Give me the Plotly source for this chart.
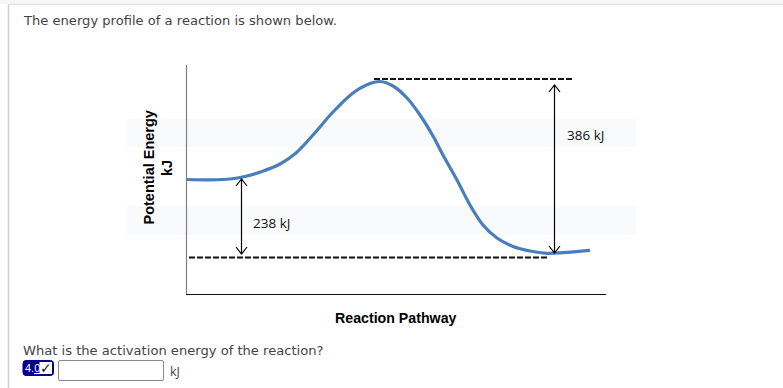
import plotly.graph_objects as go

# Reference drawn on a page-sized coordinate system (x right, y down)
curve_x = [187, 210, 230, 245, 262, 280, 296, 313, 333, 353, 367, 380, 393, 407, 420, 433, 443, 457, 470, 483, 497, 513, 530, 547, 563, 590]
curve_y = [179.5, 179.8, 179, 176.5, 171.5, 164, 153, 135, 112, 93, 84.7, 81.5, 86, 98, 115, 136, 155, 180, 205, 225, 238, 246.5, 251, 253.3, 252.7, 250.3]

top_level_x = [374, 573]
top_level_y = [79, 79]
bottom_level_x = [189, 548]
bottom_level_y = [257.5, 257.5]

arrow_small_x = [241.5, 241.5]
arrow_small_y = [179, 254]
arrow_large_x = [554.5, 554.5]
arrow_large_y = [85, 253]

band_rows = [(119, 147), (206, 235)]

question_intro = "The energy profile of a reaction is shown below."
question_ask = "What is the activation energy of the reaction?"
y_title_main = "Potential Energy"
y_title_unit = "kJ"
x_title = "Reaction Pathway"
label_small = "238 kJ"
label_large = "386 kJ"
unit_label = "kJ"
badge_value = "4.<u>0</u>"

BODY = "DejaVu Sans"
LABEL = "Open Sans"
BOLD = "Liberation Sans"
BLUE = "#4a7ebb"


def arrow_trace(xs, ys):
    hx, hy = 5.5, 7
    px = [xs[0] - hx, xs[0], xs[0] + hx, None, xs[0], xs[1], None, xs[1] - hx, xs[1], xs[1] + hx]
    py = [ys[0] + hy, ys[0], ys[0] + hy, None, ys[0], ys[1], None, ys[1] - hy, ys[1], ys[1] - hy]
    return go.Scatter(x=px, y=py, mode="lines", line=dict(color="#000000", width=1.2), hoverinfo="skip")


fig = go.Figure()
for xs, ys in [(top_level_x, top_level_y), (bottom_level_x, bottom_level_y)]:
    fig.add_trace(go.Scatter(x=xs, y=ys, mode="lines", hoverinfo="skip",
                             line=dict(color="#111111", width=2, dash="6px,2px")))
fig.add_trace(go.Scatter(x=curve_x, y=curve_y, mode="lines", hoverinfo="skip",
                         line=dict(color=BLUE, width=3.2, shape="spline", smoothing=1)))
fig.add_trace(arrow_trace(arrow_small_x, arrow_small_y))
fig.add_trace(arrow_trace(arrow_large_x, arrow_large_y))

badge_path = "M 26 360.5 H 50.5 Q 53.5 360.5 53.5 363.5 V 372.5 Q 53.5 375.5 50.5 375.5 H 26 Q 23 375.5 23 372.5 V 363.5 Q 23 360.5 26 360.5 Z"
input_path = "M 60 360.5 H 162 Q 163.5 360.5 163.5 362 V 379 Q 163.5 380.5 162 380.5 H 60 Q 58.5 380.5 58.5 379 V 362 Q 58.5 360.5 60 360.5 Z"

shapes = [
    dict(type="rect", x0=0, x1=783, y0=0, y1=4, fillcolor="#f6f6f6", line_width=0, layer="below"),
    dict(type="line", x0=8, x1=783, y0=4.5, y1=4.5, line=dict(color="#e2e2e2", width=1), layer="below"),
    dict(type="line", x0=8.5, x1=8.5, y0=4, y1=388, line=dict(color="#d0d0d0", width=1.5), layer="below"),
    dict(type="line", x0=186.5, x1=186.5, y0=65, y1=294, line=dict(color="#808080", width=1.2)),
    dict(type="line", x0=186, x1=606, y0=294.5, y1=294.5, line=dict(color="#111111", width=1.2)),
    # answer widgets
    dict(type="path", path=badge_path, fillcolor="#00008b", line=dict(color="#00008b", width=1), layer="above"),
    dict(type="rect", x0=39.5, x1=52, y0=362, y1=374, fillcolor="#ffffff", line_width=0, layer="above"),
    dict(type="path", path=input_path, fillcolor="#ffffff", line=dict(color="#8a8a8a", width=1), layer="above"),
]
for top, bottom in band_rows:
    shapes.append(dict(type="rect", x0=127, x1=636, y0=top, y1=bottom,
                       fillcolor="#f9fafc", line_width=0, layer="below"))


def text(x, y, s, family, size, color, bold=False, anchor="left", angle=0):
    fig.add_annotation(x=x, y=y, text=f"<b>{s}</b>" if bold else s, showarrow=False,
                       xanchor=anchor, yanchor="middle", textangle=angle,
                       borderpad=0, borderwidth=0,
                       font=dict(family=family, size=size, color=color))


text(23, 20.5, question_intro, BODY, 13.1, "#444444")
text(23, 350.5, question_ask, BODY, 13.1, "#444444")
text(148, 167.5, y_title_main, BOLD, 14.5, "#000000", bold=True, anchor="center", angle=-90)
text(167, 168, y_title_unit, BOLD, 14.5, "#000000", bold=True, anchor="center", angle=-90)
text(395.5, 318, x_title, BOLD, 14.2, "#000000", bold=True, anchor="center")
text(253, 223, label_small, LABEL, 13.5, "#111111")
text(567, 135, label_large, LABEL, 13.5, "#111111")
text(170, 371.5, unit_label, LABEL, 12.5, "#444444")
text(24.5, 367.5, badge_value, BOLD, 11, "#ffffff")
text(45.5, 367.5, "✓", "DejaVu Sans", 14, "#222222", bold=True, anchor="center")

fig.update_layout(
    width=783, height=388, autosize=False, showlegend=False,
    margin=dict(l=0, r=0, t=0, b=0),
    paper_bgcolor="#ffffff", plot_bgcolor="#ffffff", shapes=shapes,
    xaxis=dict(range=[0, 783], visible=False, fixedrange=True),
    yaxis=dict(range=[388, 0], visible=False, fixedrange=True),
)
fig.write_html("out.html", config={"displayModeBar": False},
               post_script="document.body.style.margin='0';document.body.style.overflow='hidden';")
